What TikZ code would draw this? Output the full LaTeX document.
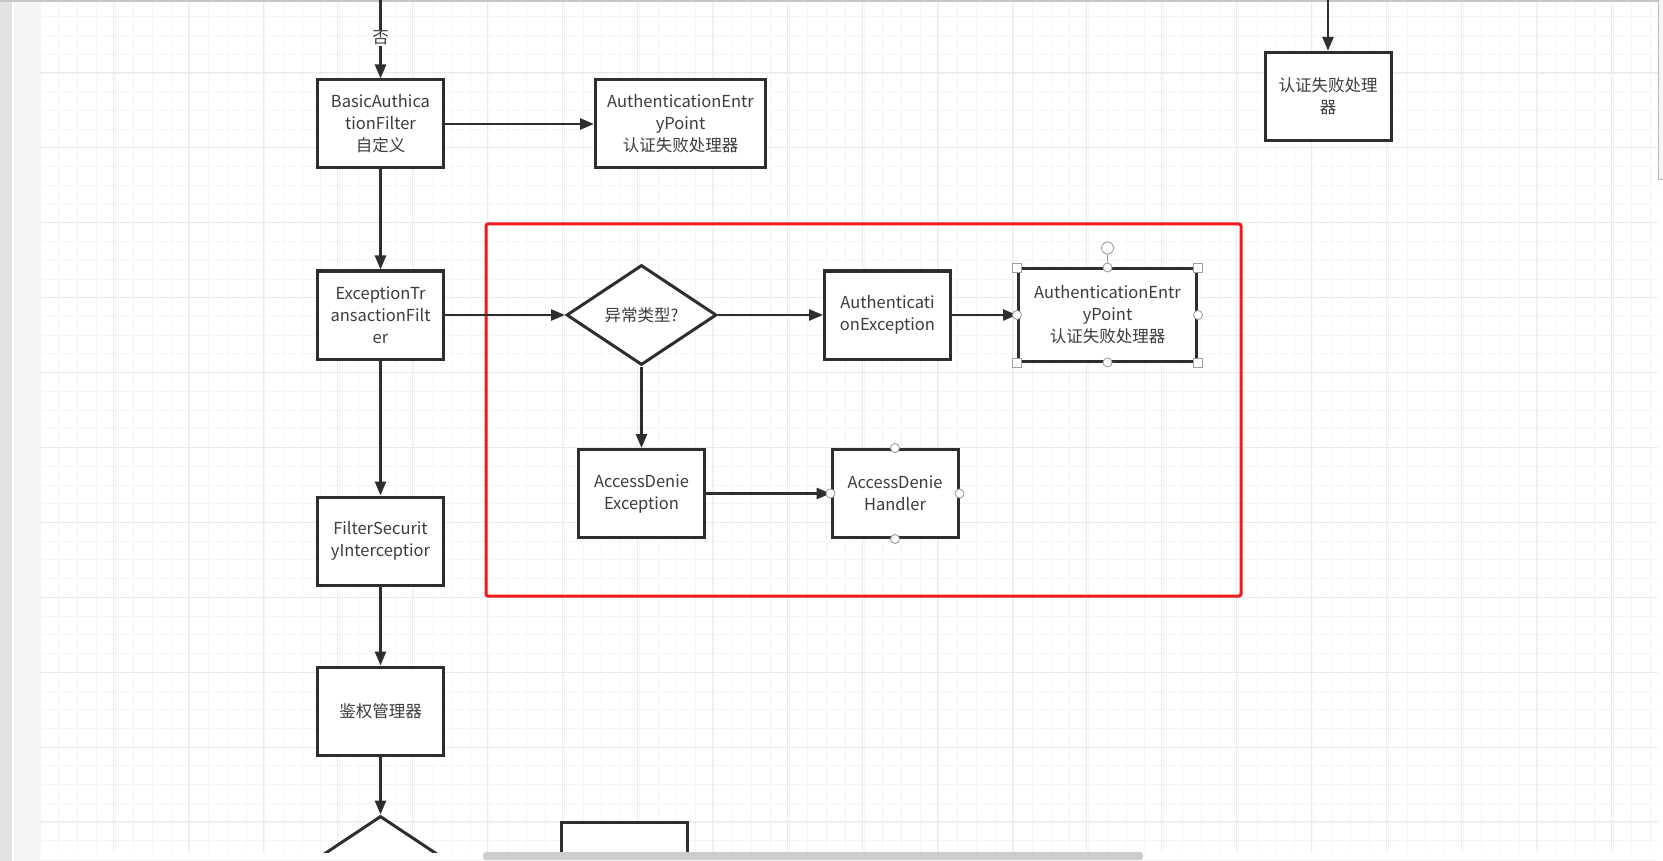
\documentclass[tikz,border=0pt]{standalone}
\usepackage{fontspec}
\setmainfont{Noto Sans CJK SC}
\usetikzlibrary{shapes.geometric, positioning, arrows.meta}
\definecolor{inkgray}{HTML}{2E2E2E}
\definecolor{txtgray}{HTML}{3C3C3C}
\definecolor{gridgray}{HTML}{EAEAEA}
\definecolor{minorgray}{HTML}{F5F5F5}
\definecolor{framered}{HTML}{F21B1B}
\tikzset{
  x=1pt, y=-1pt,
  >={Triangle[length=14pt,width=11pt]},
  flow/.style={->, draw=inkgray, line width=2.6pt},
  box/.style={draw=inkgray, line width=3pt, fill=white, text=txtgray,
    minimum width=126pt, minimum height=88pt, align=center, inner sep=2pt,
    font=\fontsize{16.5}{22}\selectfont},
  decision/.style={box, diamond, aspect=1.5, minimum width=150pt,
    minimum height=100pt, inner sep=0pt},
  grip/.style={draw=gray!75, fill=white, line width=0.9pt, inner sep=0pt,
    minimum size=9pt},
}
\begin{document}
\begin{tikzpicture}
  \useasboundingbox (0,0) rectangle (1663,861);
  \fill[white] (0,0) rectangle (1663,861);
  \foreach \i in {0,...,87}
    \draw[minorgray, line width=0.8pt] ({40+18.725*\i},0) -- ({40+18.725*\i},852);
  \foreach \j in {0,...,45}
    \draw[minorgray, line width=0.8pt] (40,{16.8+18.725*\j}) -- (1658,{16.8+18.725*\j});
  \foreach \i in {0,...,21}
    \draw[gridgray, line width=1pt] ({38.3+74.9*\i},0) -- ({38.3+74.9*\i},852);
  \foreach \j in {0,...,11}
    \draw[gridgray, line width=1pt] (40,{-2+74.9*\j}) -- (1658,{-2+74.9*\j});
  \fill[gray!22] (0,0) rectangle (12,861);
  \fill[gray!9] (14,0) rectangle (40,861);
  \draw[gray!45, line width=2pt] (0,1) -- (1663,1);
  \draw[gray!55, fill=gray!8, line width=1pt] (1658,0) rectangle (1663,180);

  \begin{scope}
  \clip (0,0) rectangle (1663,852);
  \node[draw=framered, line width=3pt, rounded corners=2pt, minimum width=755pt,
    minimum height=372pt] (excframe) at (863.5,410) {};

  \coordinate (in) at (380.5,0);
  \node[box] (bas) at (380.5,124) {BasicAuthica\\tionFilter\\自定义};
  \node[box, minimum width=170pt, right=149pt of bas] (entry1)
    {AuthenticationEntr\\yPoint\\认证失败处理器};
  \node[box, below=100pt of bas] (ext) {ExceptionTr\\ansactionFilt\\er};
  \node[decision, right=120pt of ext] (type) {异常类型?};
  \node[box, right=105pt of type] (authex) {Authenticati\\onException};
  \node[box, minimum width=178pt, minimum height=92pt, right=65pt of authex] (entry2)
    {AuthenticationEntr\\yPoint\\认证失败处理器};
  \node[box, below=81.5pt of type] (accex) {AccessDenie\\Exception};
  \node[box, right=124.5pt of accex] (acch) {AccessDenie\\Handler};
  \node[box, below=135pt of ext] (fsi) {FilterSecurit\\yInterceptior};
  \node[box, below=79pt of fsi] (auth) {鉴权管理器};
  \node[decision, below=58pt of auth] (vote) {};
  \node[box, right=103pt of vote] (denied) {};

  \coordinate (failin) at (1328,0);
  \node[box] (fail) at (1328,96.3) {认证失败处理\\器};

  \draw[flow] (in) -- node[pos=0.48, fill=white, text=txtgray, inner sep=1pt,
    font=\fontsize{16.5}{20}\selectfont] {否} (bas);
  \draw[flow] (bas) -- (entry1);
  \draw[flow] (bas) -- (ext);
  \draw[flow] (ext) -- (type);
  \draw[flow] (type) -- (authex);
  \draw[flow] (authex) -- (entry2);
  \draw[flow] (type) -- (accex);
  \draw[flow] (accex) -- (acch);
  \draw[flow] (ext) -- (fsi);
  \draw[flow] (fsi) -- (auth);
  \draw[flow] (auth) -- (vote);
  \draw[flow] (failin) -- (fail);

  \node[grip, circle, minimum size=12pt, above=13pt of entry2.north] (rot) {};
  \draw[gray!75, line width=0.9pt] (rot) -- (entry2.north);
  \foreach \a in {north, south, east, west}
    \node[grip, circle] at (entry2.\a) {};
  \foreach \a in {north east, north west, south east, south west}
    \node[grip, rectangle] at (entry2.\a) {};
  \foreach \a in {north, south, east, west}
    \node[grip, circle] at (acch.\a) {};
  \end{scope}

  \fill[gray!40, rounded corners=3pt] (483,852) rectangle (1143,860);
\end{tikzpicture}
\end{document}
